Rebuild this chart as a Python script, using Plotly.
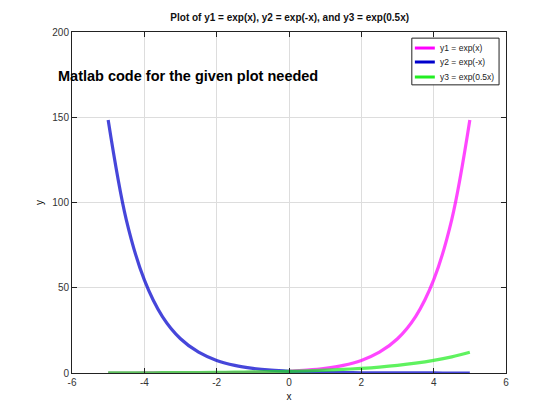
import plotly.graph_objects as go

# samples
x_vals = [-5, -4.5, -4, -3.5, -3, -2.5, -2, -1.5, -1, -0.5, 0,
          0.5, 1, 1.5, 2, 2.5, 3, 3.5, 4, 4.5, 5]
y1_vals = [0.01, 0.01, 0.02, 0.03, 0.05, 0.08, 0.14, 0.22, 0.37, 0.61, 1.0,
           1.65, 2.72, 4.48, 7.39, 12.2, 20.1, 33.1, 54.6, 90.0, 148.4]
y2_vals = [148.4, 90.0, 54.6, 33.1, 20.1, 12.2, 7.39, 4.48, 2.72, 1.65, 1.0,
           0.61, 0.37, 0.22, 0.14, 0.08, 0.05, 0.03, 0.02, 0.01, 0.01]
y3_vals = [0.08, 0.11, 0.14, 0.17, 0.22, 0.29, 0.37, 0.47, 0.61, 0.78, 1.0,
           1.28, 1.65, 2.12, 2.72, 3.49, 4.48, 5.75, 7.39, 9.49, 12.2]
series_names = ["y1 = exp(x)", "y2 = exp(-x)", "y3 = exp(0.5x)"]
series_colors = ["#ff00ff", "#0000cc", "#22ee22"]
x_ticks = [-6, -4, -2, 0, 2, 4, 6]
x_tick_labels = ["-6", "-4", "-2", "0", "2", "4", "6"]
y_ticks = [0, 50, 100, 150, 200]

fig = go.Figure()
for name, ys, col in zip(series_names, [y1_vals, y2_vals, y3_vals], series_colors):
    fig.add_trace(go.Scatter(
        x=x_vals, y=ys, name=name, mode="lines",
        line=dict(color=col, width=3.2, shape="spline"),
        opacity=0.72,
    ))

axis_common = dict(
    showline=True, linecolor="#222", linewidth=1, mirror="ticks",
    ticks="inside", ticklen=5, tickcolor="#222",
    showgrid=True, gridcolor="#dddddd", gridwidth=1,
    zeroline=False, tickfont=dict(size=10, color="#333"),
)

fig.update_layout(
    width=560, height=420,
    paper_bgcolor="white", plot_bgcolor="white",
    font=dict(family="Liberation Sans, Arial, sans-serif", color="#111"),
    margin=dict(l=64, r=62, t=24, b=55),
    title=dict(text="<b>Plot of y1 = exp(x), y2 = exp(-x), and y3 = exp(0.5x)</b>",
               x=0.503, xanchor="center", y=0.978, yanchor="middle",
               font=dict(size=10)),
    xaxis=dict(range=[-6, 6], tickvals=x_ticks, ticktext=x_tick_labels,
               title=dict(text="x", font=dict(size=10), standoff=5), **axis_common),
    yaxis=dict(range=[0, 200], tickvals=y_ticks,
               title=dict(text="y", font=dict(size=10), standoff=6), **axis_common),
    showlegend=False,
)

# compact legend box, matlab/octave style
fig.add_shape(type="rect", xref="paper", yref="paper",
              x0=0.783, x1=0.984, y0=0.845, y1=0.982,
              line=dict(color="#222", width=1), fillcolor="white", layer="above")
row_y = [0.953, 0.912, 0.868]
for name, col, ry in zip(series_names, series_colors, row_y):
    fig.add_shape(type="line", xref="paper", yref="paper",
                  x0=0.790, x1=0.836, y0=ry, y1=ry,
                  line=dict(color=col, width=3), layer="above")
    fig.add_annotation(text=name, xref="paper", yref="paper", x=0.843, y=ry,
                       xanchor="left", yanchor="middle", showarrow=False,
                       font=dict(size=8.5, color="#222"))

fig.add_annotation(
    text="<b>Matlab code for the given plot needed</b>",
    xref="paper", yref="paper", x=-0.037, y=0.871,
    xanchor="left", yanchor="middle", showarrow=False,
    font=dict(size=14.5, color="black"),
)

fig.write_html("out.html")
